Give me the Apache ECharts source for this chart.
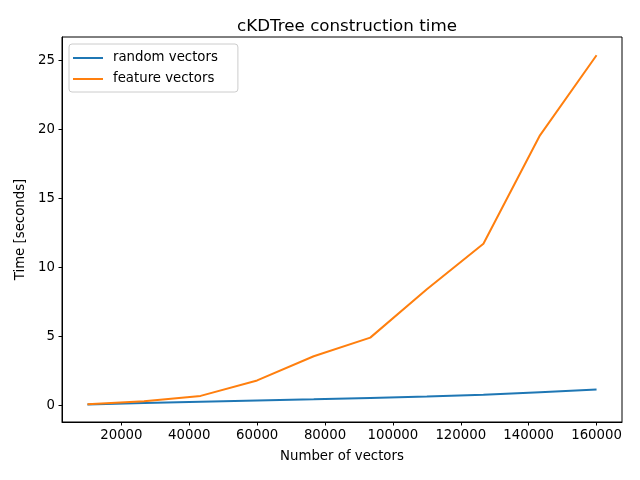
<!DOCTYPE html>
<html>
<head>
<meta charset="utf-8">
<script src="https://cdn.jsdelivr.net/npm/echarts@6/dist/echarts.min.js"></script>
<style>
  html, body { margin: 0; padding: 0; background: #fff; }
  #container { width: 640px; height: 480px; }
</style>
</head>
<body>
<div id="container"></div>
<script>
"use strict";

// data
var vectorCounts = [10000, 26667, 43333, 60000, 76667, 93333, 110000, 126667, 143333, 160000];
var randomTimes = [0.06, 0.16, 0.26, 0.34, 0.43, 0.53, 0.64, 0.76, 0.95, 1.14];
var featureTimes = [0.07, 0.3, 0.68, 1.8, 3.55, 4.9, 8.4, 11.7, 19.55, 25.35];
var xTicks = [20000, 40000, 60000, 80000, 100000, 120000, 140000, 160000];
var yTicks = [0, 5, 10, 15, 20, 25];

function pairs(xs, ys) {
    return xs.map(function (x, i) { return [x, ys[i]]; });
}

var font = 'DejaVu Sans';
var dom = document.getElementById('container');
var myChart = echarts.init(dom, null, { renderer: 'canvas' });

var option = {
    animation: false,
    title: {
        text: 'cKDTree construction time',
        left: 342,
        textAlign: 'center',
        top: 13,
        textStyle: { fontFamily: font, fontSize: 16.7, fontWeight: 'normal', color: '#000' }
    },
    legend: {
        orient: 'vertical',
        left: 69,
        top: 44,
        padding: [7, 20, 6, 4],
        icon: 'rect',
        itemWidth: 30,
        itemHeight: 2,
        itemGap: 7,
        backgroundColor: '#fff',
        borderColor: '#cccccc',
        borderWidth: 1,
        borderRadius: 3,
        textStyle: { fontFamily: font, fontSize: 13.3, color: '#000', padding: [0, 0, 0, 5], lineHeight: 14 },
        data: ['random vectors', 'feature vectors']
    },
    grid: {
        left: 62,
        right: 18,
        top: 37,
        bottom: 58,
        show: true,
        borderColor: '#000',
        borderWidth: 1
    },
    xAxis: {
        type: 'value',
        min: 2500,
        max: 167500,
        name: 'Number of vectors',
        nameLocation: 'middle',
        nameGap: 28,
        nameTextStyle: { fontFamily: font, fontSize: 13.3, color: '#000' },
        splitLine: { show: false },
        axisLine: { show: true, onZero: false, lineStyle: { color: '#000', width: 1 } },
        axisTick: { show: true, length: 3.5, lineStyle: { color: '#000' }, customValues: xTicks },
        axisLabel: {
            margin: 7, fontFamily: font, fontSize: 13.3, color: '#000', customValues: xTicks,
            formatter: function (v) { return String(v); }
        }
    },
    yAxis: {
        type: 'value',
        min: -1.21,
        max: 26.67,
        name: 'Time [seconds]',
        nameLocation: 'middle',
        nameGap: 34,
        nameTextStyle: { fontFamily: font, fontSize: 13.3, color: '#000' },
        splitLine: { show: false },
        axisLine: { show: true, onZero: false, lineStyle: { color: '#000', width: 1 } },
        axisTick: { show: true, length: 3.5, lineStyle: { color: '#000' }, customValues: yTicks },
        axisLabel: { margin: 7, fontFamily: font, fontSize: 13.3, color: '#000', customValues: yTicks }
    },
    series: [{
        name: 'random vectors',
        type: 'line',
        symbol: 'none',
        color: '#1f77b4',
        lineStyle: { width: 2, color: '#1f77b4' },
        data: pairs(vectorCounts, randomTimes)
    }, {
        name: 'feature vectors',
        type: 'line',
        symbol: 'none',
        color: '#ff7f0e',
        lineStyle: { width: 2, color: '#ff7f0e' },
        data: pairs(vectorCounts, featureTimes)
    }]
};

myChart.setOption(option, true);
</script>
</body>
</html>
